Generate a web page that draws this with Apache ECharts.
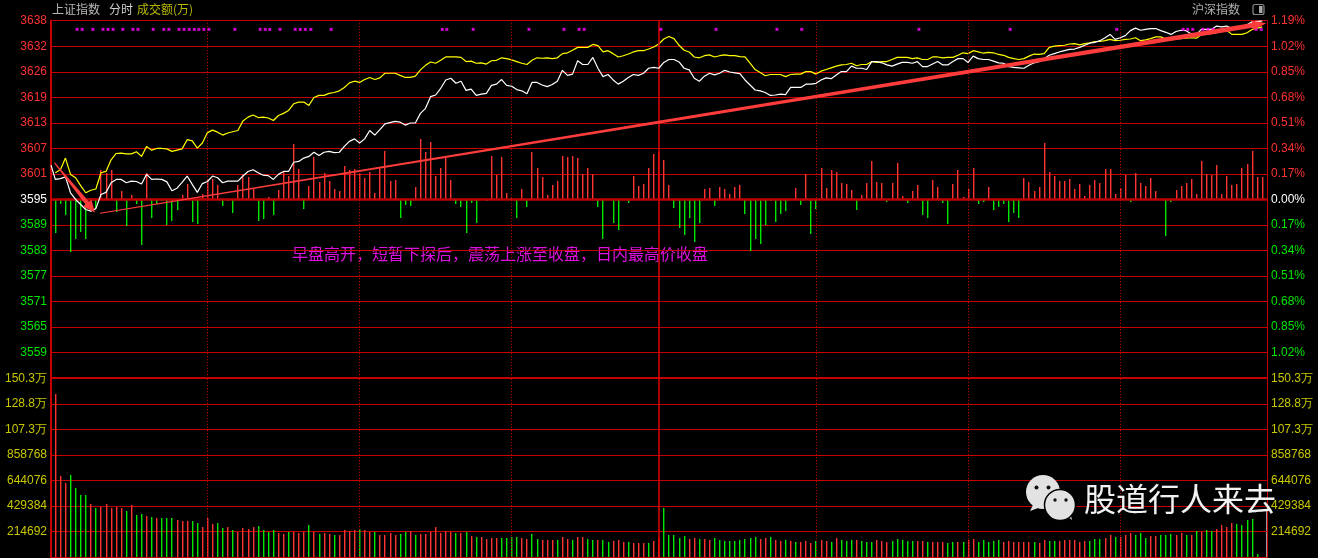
<!DOCTYPE html>
<html><head><meta charset="utf-8">
<style>html,body{margin:0;padding:0;background:#000}#c{width:1318px;height:558px}</style>
<script src="https://cdn.jsdelivr.net/npm/echarts@6/dist/echarts.min.js"></script>
</head><body><div id="c"></div>
<script>
const prevClose = 3595;
const priceLabels = ['3553','3559','3565','3571','3577','3583','3589','3595','3601','3607','3613','3619','3626','3632','3638'];
const whiteOpen = 3603.2;
const whitePrices = [
3599.8,3600.0,3600.4,3596.6,3595.0,3593.8,3592.6,3592.2,3592.8,3596.2,3596.7,3599.0,3599.8,3599.8,3599.0,3599.4,3599.3,3598.7,3601.0,3599.8,
3599.9,3599.8,3599.2,3597.1,3597.7,3599.1,3600.6,3598.6,3596.7,3598.8,3599.3,3600.6,3600.2,3599.0,3599.4,3599.4,3599.4,3600.6,3601.7,3602.1,
3601.4,3600.8,3600.7,3599.8,3601.0,3601.7,3601.7,3603.9,3604.1,3604.9,3605.3,3606.3,3605.5,3606.3,3606.5,3606.2,3606.3,3607.7,3608.9,3609.5,
3608.5,3609.5,3611.5,3610.4,3611.7,3613.1,3613.4,3613.7,3613.5,3612.8,3613.3,3613.3,3615.6,3616.8,3619.6,3620.0,3621.6,3623.6,3624.0,3622.8,
3623.3,3621.1,3621.4,3619.9,3620.2,3620.4,3622.3,3622.6,3623.7,3622.3,3622.1,3621.3,3621.0,3620.3,3623.0,3623.0,3622.4,3622.0,3622.5,3623.3,
3625.9,3624.7,3625.0,3628.2,3627.3,3627.3,3629.0,3626.4,3624.4,3624.9,3623.6,3622.6,3623.3,3624.2,3624.9,3624.7,3625.2,3626.4,3626.6,3626.4,
3627.8,3628.5,3628.5,3627.9,3626.4,3626.0,3624.0,3623.3,3624.5,3625.2,3624.8,3625.2,3625.9,3625.5,3625.3,3625.1,3623.6,3622.4,3621.2,3621.0,
3620.6,3619.9,3620.0,3620.2,3620.1,3621.8,3621.8,3621.8,3622.6,3622.6,3622.8,3623.6,3624.1,3623.9,3624.8,3625.6,3625.6,3626.9,3626.4,3626.4,
3626.1,3628.0,3628.0,3627.7,3627.2,3626.9,3627.4,3627.8,3627.8,3627.6,3628.0,3626.8,3626.8,3627.4,3628.0,3627.2,3627.2,3628.0,3628.7,3628.7,
3627.8,3629.3,3628.7,3628.5,3628.5,3628.1,3627.7,3627.6,3626.8,3626.6,3626.5,3626.4,3627.1,3627.7,3628.0,3628.7,3629.5,3629.9,3630.3,3630.6,
3630.9,3631.0,3631.4,3631.9,3632.4,3632.6,3633.0,3633.7,3634.5,3633.3,3633.7,3634.2,3635.4,3636.0,3635.5,3635.7,3635.9,3635.9,3635.4,3635.0,
3634.5,3635.2,3635.5,3635.4,3634.6,3634.5,3635.7,3635.7,3635.7,3636.5,3636.3,3636.5,3635.9,3636.3,3636.4,3636.8,3637.5,3637.6,3637.7];
const yellowPrices = [
3601.4,3602.1,3604.9,3601.0,3600.2,3598.3,3596.6,3597.2,3597.5,3601.4,3601.7,3604.5,3606.0,3606.1,3605.9,3605.9,3606.4,3605.3,3607.7,3606.8,
3607.2,3607.2,3607.1,3606.5,3606.8,3607.1,3609.3,3609.0,3607.3,3608.5,3611.0,3611.6,3611.1,3610.4,3610.9,3611.2,3611.5,3613.8,3614.7,3615.2,
3614.6,3614.7,3614.5,3613.9,3615.1,3615.6,3616.3,3617.9,3618.3,3618.3,3617.5,3619.4,3619.9,3619.9,3620.4,3620.6,3621.0,3621.8,3622.9,3623.3,
3623.0,3623.7,3624.2,3623.7,3624.1,3625.2,3625.2,3625.2,3624.7,3624.2,3624.2,3624.5,3626.0,3627.1,3627.9,3627.6,3628.3,3629.1,3629.1,3629.1,
3629.0,3628.0,3628.1,3627.6,3627.7,3627.4,3628.2,3628.3,3628.9,3628.7,3628.4,3628.0,3627.6,3627.3,3628.3,3628.9,3628.8,3628.9,3628.7,3628.9,
3629.9,3630.1,3630.7,3631.4,3631.4,3631.4,3632.1,3631.8,3630.3,3630.6,3629.9,3629.1,3629.4,3629.8,3630.3,3630.6,3630.6,3631.0,3631.5,3632.2,
3633.4,3634.0,3633.5,3631.9,3630.7,3630.3,3629.1,3628.9,3629.4,3629.6,3629.1,3629.4,3629.6,3629.4,3629.4,3629.2,3629.1,3627.6,3626.1,3625.4,
3624.6,3624.9,3624.9,3624.9,3624.4,3624.9,3625.0,3625.0,3625.6,3625.6,3625.0,3625.7,3626.1,3626.5,3626.9,3627.2,3627.3,3627.6,3627.0,3627.3,
3627.3,3628.0,3627.8,3628.0,3628.0,3628.5,3629.0,3629.0,3629.0,3628.7,3628.9,3628.5,3628.5,3629.1,3629.1,3628.9,3629.0,3629.0,3629.5,3630.1,
3629.9,3630.6,3630.3,3630.0,3630.2,3630.1,3629.7,3629.5,3629.0,3628.7,3628.5,3628.7,3629.3,3629.8,3629.7,3629.9,3631.4,3631.7,3631.8,3631.9,
3632.2,3632.3,3632.0,3632.3,3632.5,3632.8,3632.8,3633.0,3633.3,3633.0,3633.1,3633.3,3633.4,3633.7,3633.0,3633.2,3633.5,3633.9,3633.9,3633.4,
3633.3,3633.5,3633.5,3633.6,3633.7,3633.6,3634.4,3634.7,3634.7,3634.9,3635.5,3635.5,3634.5,3634.5,3634.5,3634.9,3635.7,3636.0,3636.3];
const flowValues = [
-102,-15,-48,-157,-120,-98,-120,5,-25,90,80,90,-38,26,-80,12,-15,-138,80,-57,
-15,-6,-78,-66,-32,12,45,-68,-75,15,60,62,42,-20,-6,-42,42,78,68,35,
-65,-60,8,-48,27,82,70,168,93,-30,40,127,52,80,57,32,24,102,90,92,
80,66,84,20,95,147,56,60,-57,-18,-20,36,183,143,174,72,96,132,60,-15,
-24,-102,-12,-72,-2,-6,132,75,129,18,3,-57,30,-24,144,96,69,12,42,57,
132,129,132,126,78,96,78,-24,-120,-2,-70,-93,0,-12,72,39,45,96,138,144,
120,42,-27,-87,-108,-57,-129,-72,32,33,-21,36,30,15,36,42,-45,-156,-120,-135,
-78,-6,-69,-45,-36,-3,33,-18,78,-105,-30,96,33,90,84,51,45,27,-33,12,
51,117,54,51,-9,51,111,9,-12,24,42,-48,-57,60,36,-12,-75,45,90,6,
30,96,-15,-9,36,-33,-24,-15,-69,-42,-57,66,54,24,36,171,84,72,57,57,
63,30,45,9,42,60,51,93,93,15,33,75,-9,81,51,39,66,24,0,-111,
-9,27,39,51,63,15,117,78,75,105,15,72,42,48,96,108,147,69,69];
const volumeWan = [
136.9,68.0,62.2,68.9,58.0,52.1,52.1,44.5,41.2,42.0,44.5,41.2,42.0,41.2,38.6,43.7,35.3,36.1,34.4,33.6,
32.8,32.8,32.8,32.8,31.1,30.2,30.2,30.2,28.6,25.2,32.8,27.7,28.6,24.4,25.2,22.7,21.0,24.4,23.5,25.2,
26.0,22.7,21.0,22.7,20.2,19.3,21.0,21.0,20.2,21.0,26.9,21.0,19.3,20.2,19.3,
18.8,18.8,23.0,22.1,23.0,23.8,23.0,21.3,21.3,18.8,18.8,20.4,18.8,19.6,21.3,22.1,18.8,19.6,19.6,21.3,
25.5,20.4,22.1,21.3,20.4,20.4,21.3,17.9,17.1,17.1,15.4,16.2,16.2,16.2,16.2,17.1,17.1,16.2,15.4,19.6,
15.4,14.6,14.6,14.6,14.6,17.1,15.4,14.6,17.1,17.1,15.4,14.6,14.6,14.6,12.9,13.7,14.6,12.9,12.9,12.0,
12.0,12.0,12.0,13.7,16.2,41.4,18.8,18.8,16.2,17.9,15.4,16.2,15.4,15.4,14.6,16.2,14.6,13.7,13.7,13.7,
14.6,15.4,16.2,17.1,15.4,16.2,17.1,14.6,13.7,14.6,13.7,12.9,12.9,13.7,12.0,13.7,14.6,13.7,
12.9,16.2,14.6,13.7,14.6,14.6,13.7,12.9,12.9,14.6,13.7,12.9,13.7,15.4,14.6,13.7,13.7,13.7,13.7,12.9,
12.9,12.9,12.9,12.0,12.9,12.9,12.9,14.8,15.4,12.9,14.6,12.9,13.7,14.6,12.9,13.7,12.9,12.9,12.9,12.9,
12.9,12.0,14.6,13.7,13.7,13.7,14.6,14.6,14.6,12.9,13.7,13.7,15.4,15.4,16.2,18.8,17.1,17.1,18.8,20.4,
18.8,20.4,16.2,17.9,17.9,18.8,18.8,19.6,18.8,20.4,18.8,18.8,22.1,21.3,23.0,22.1,23.8,27.2,25.5,28.8,
28.0,27.2,31.4,32.2,2.8];
const volumeDir = (
"RRRGGGGRGRRRRRGRGGRGRGGGRRRGGRRRGGRGRRRRGGGGRRGRRRGRGRR"+
"GRRRRGRRGRRRRGGRGRRRRRRRGRGRGRRRRGGGGRRGGRRRGRRGRRGGRGGRRRGRRRGRR"+
"GGGGGRRGRRGGGGGGGGGRRGRRGRGRRR"+
"GRRGRGGGRGGGRRRGGGGGRRGRRRGGRGRRGGGGGRRRRRRGRRGGRRRRRRGGGRRGRRRGGGRRGGGRRGRGRGGRRRR").split('');
const dotMinutes = [4.3,5.3,7.4,9.4,10.4,11.4,13.3,15.3,16.3,19.3,21.4,22.4,24.4,25.4,26.4,27.4,28.3,29.3,30.3,35.4,40.4,41.4,42.3,44.3,47.3,48.3,49.3,50.4,
54.4,76.3,77.2,82.4,93.4,100.3,103.3,104.3,119.4,130.3,142.3,147.2,170.3,188.3,209.3,222.4,223.3,224.3,226.3,227.3,228.3,236.8,237.8];
const dotLevel = 3635.7;
const dottedMinutes = [30,60,90,150,180,210];
const noonMinute = 119;
const arrowShort = [[-0.2,3603.8],[7.8,3591.9]];
const arrowLong = [[8.8,3591.7],[238.8,3637.2]];
const volumeStep = 214692;
const noteText = ['早盘高开','短暂下探后','震荡上涨至收盘','日内最高价收盘'].join('\uFF0C');

const pct = p => (p - prevClose) / prevClose * 100;
const tone = v => v > 0.001 ? '#ff3232' : (v < -0.001 ? '#00e600' : '#ffffff');
const gridRed = '#c40000', labelFont = '"Liberation Sans"', cjk = '"Noto Sans CJK SC"';
const volFmt = v => v >= 1000000 ? (v / 10000).toFixed(1) + '万' : String(v);
const mkLines = extra => ({silent: true, symbol: 'none', animation: false, label: {show: false},
  data: dottedMinutes.map(m => ({xAxis: m, lineStyle: {type: [1, 2], color: '#d00000', width: 1}}))
    .concat([{xAxis: noonMinute, lineStyle: {type: 'solid', color: '#e00000', width: 1.5}}])
    .concat(extra || [])});

const chart = echarts.init(document.getElementById('c'), null, {renderer: 'canvas'});
function arrow(params, api) {
  const a = api.coord([api.value(0), pct(api.value(1))]);
  const b = api.coord([api.value(2), pct(api.value(3))]);
  const w0 = api.value(4), w1 = api.value(5), hw = api.value(6), hl = api.value(7);
  const dx = b[0] - a[0], dy = b[1] - a[1], L = Math.hypot(dx, dy), ux = dx / L, uy = dy / L, nx = -uy, ny = ux;
  const c = [b[0] - ux * hl, b[1] - uy * hl];
  return {type: 'polygon', shape: {points: [
    [a[0] + nx * w0 / 2, a[1] + ny * w0 / 2], [c[0] + nx * w1 / 2, c[1] + ny * w1 / 2],
    [c[0] + nx * hw / 2, c[1] + ny * hw / 2], b, [c[0] - nx * hw / 2, c[1] - ny * hw / 2],
    [c[0] - nx * w1 / 2, c[1] - ny * w1 / 2], [a[0] - nx * w0 / 2, a[1] - ny * w0 / 2]]},
    style: {fill: '#ff3c3c'}};
}
// one crisp column per minute, positioned through the axes
function columnBar(params, api) {
  const top = api.coord([api.value(0), api.value(1)]);
  const base = api.coord([api.value(0), 0]);
  const y0 = Math.round(Math.min(top[1], base[1]));
  const y1 = Math.round(Math.max(top[1], base[1]));
  return {type: 'rect', shape: {x: Math.floor(top[0]), y: y0, width: 1.4, height: y1 - y0},
    style: {fill: api.value(2) > 0 ? '#ff3232' : '#00e600'}};
}
const pctAxis = {type: 'value', min: -1.19, max: 1.19, interval: 0.17, gridIndex: 0, axisTick: {show: false}};
const volAxis = {type: 'value', gridIndex: 1, min: 0, max: 7 * volumeStep, interval: volumeStep, axisTick: {show: false}};
const labelBase = {showMinLabel: false, margin: 4, fontFamily: labelFont, fontSize: 12};
const edge = w => ({show: true, onZero: false, lineStyle: {color: '#c80000', width: w}});
chart.setOption({
  animation: false,
  backgroundColor: '#000',
  grid: [
    {left: 51, width: 1216, top: 20.7, height: 357.5},
    {left: 51, width: 1216, top: 378.2, height: 179}
  ],
  xAxis: [0, 1].map(i => ({
    type: 'value', gridIndex: i, min: -0.85, max: 238.94,
    axisLabel: {show: false}, axisTick: {show: false}, splitLine: {show: false},
    axisLine: {show: true, onZero: false, lineStyle: {color: gridRed, width: i === 0 ? 2 : 1}}
  })),
  yAxis: [
    Object.assign({}, pctAxis, {position: 'left', axisLine: edge(2),
      splitLine: {show: true, lineStyle: {color: gridRed, width: 1}},
      axisLabel: Object.assign({}, labelBase, {
        formatter: v => priceLabels[Math.round(v / 0.17) + 7], color: v => tone(v)})}),
    Object.assign({}, pctAxis, {position: 'right', axisLine: edge(1), splitLine: {show: false},
      axisLabel: Object.assign({}, labelBase, {
        formatter: v => Math.abs(v).toFixed(2) + '%', color: v => tone(v)})}),
    {type: 'value', gridIndex: 0, min: -538, max: 538, show: false},
    Object.assign({}, volAxis, {position: 'left', axisLine: edge(2),
      splitLine: {show: true, lineStyle: {color: gridRed, width: 1}},
      axisLabel: Object.assign({}, labelBase, {color: '#c8c800', formatter: volFmt})}),
    Object.assign({}, volAxis, {position: 'right', axisLine: edge(1), splitLine: {show: false},
      axisLabel: Object.assign({}, labelBase, {color: '#c8c800', formatter: volFmt})})
  ],
  series: [
    {type: 'custom', xAxisIndex: 0, yAxisIndex: 2, z: 2, renderItem: columnBar,
     encode: {x: 0, y: 1},
     data: flowValues.map((v, i) => [i, v, v >= 0 ? 1 : 0]),
     markLine: mkLines([{yAxis: 0, lineStyle: {type: 'solid', color: '#c00000', width: 2.5}}])},
    {type: 'custom', xAxisIndex: 1, yAxisIndex: 3, z: 2, renderItem: columnBar,
     encode: {x: 0, y: 1},
     data: volumeWan.map((v, i) => [i, v * 10000, volumeDir[i] === 'R' ? 1 : 0]),
     markLine: mkLines()},
    {type: 'line', xAxisIndex: 0, yAxisIndex: 0, showSymbol: false, z: 4, lineStyle: {color: '#ffff00', width: 1.2},
     data: yellowPrices.map((p, i) => [i, pct(p)])},
    {type: 'line', xAxisIndex: 0, yAxisIndex: 0, showSymbol: false, z: 5, lineStyle: {color: '#ffffff', width: 1.2},
     data: [[-0.85, pct(whiteOpen)]].concat(whitePrices.map((p, i) => [i, pct(p)]))},
    {type: 'scatter', xAxisIndex: 0, yAxisIndex: 0, symbol: 'rect', symbolSize: 3, z: 6, itemStyle: {color: '#ff00ff'},
     data: dotMinutes.map(m => [m, pct(dotLevel)])},
    {type: 'custom', xAxisIndex: 0, yAxisIndex: 0, z: 7, clip: false, renderItem: arrow,
     encode: {x: [0, 2], y: [1, 3]},
     data: [
       [arrowShort[0][0], arrowShort[0][1], arrowShort[1][0], arrowShort[1][1], 1, 4.5, 11, 12],
       [arrowLong[0][0], arrowLong[0][1], arrowLong[1][0], arrowLong[1][1], 1.2, 4.6, 10, 14]
     ]}
  ],
  graphic: [
    {type: 'text', left: 52, top: 3, style: {text: '上证指数', fill: '#b8b8b8', font: '12px ' + cjk}},
    {type: 'text', left: 109, top: 3, style: {text: '分时', fill: '#d0d0d0', font: '12px ' + cjk}},
    {type: 'text', left: 137, top: 3, style: {text: '成交额(万)', fill: '#b8b800', font: '12px ' + cjk}},
    {type: 'text', left: 1192, top: 3, style: {text: '沪深指数', fill: '#b0b0b0', font: '12px ' + cjk}},
    {type: 'rect', shape: {x: 1253, y: 4.5, width: 11, height: 10, r: 2}, style: {fill: '#000', stroke: '#8a8a8a', lineWidth: 1.2}},
    {type: 'rect', shape: {x: 1259, y: 6, width: 3.5, height: 7}, style: {fill: '#a8a8a8'}},
    {type: 'text', left: 292, top: 246, style: {text: noteText, fill: '#e010e0', font: '16px ' + cjk}},
    {type: 'line', shape: {x1: 1267, y1: 510, x2: 1267, y2: 557}, style: {stroke: '#fff', lineWidth: 1.2}},
    {type: 'polygon', z: 20, shape: {points: [[1033,505],[1030,511],[1041,507]]}, style: {fill: '#e2e2e2'}},
    {type: 'circle', z: 20, shape: {cx: 1043, cy: 492, r: 17}, style: {fill: '#e2e2e2'}},
    {type: 'circle', z: 20, shape: {cx: 1036.5, cy: 487.5, r: 2}, style: {fill: '#111'}},
    {type: 'circle', z: 20, shape: {cx: 1048.5, cy: 487.5, r: 2}, style: {fill: '#111'}},
    {type: 'polygon', z: 21, shape: {points: [[1066,515],[1072,520],[1070,512]]}, style: {fill: '#e2e2e2'}},
    {type: 'circle', z: 21, shape: {cx: 1060, cy: 505, r: 15.5}, style: {fill: '#e2e2e2', stroke: '#000', lineWidth: 1.5}},
    {type: 'circle', z: 21, shape: {cx: 1055, cy: 500, r: 1.7}, style: {fill: '#111'}},
    {type: 'circle', z: 21, shape: {cx: 1066, cy: 500, r: 1.7}, style: {fill: '#111'}},
    {type: 'text', z: 22, left: 1084, top: 483, style: {text: '股道行人来去', fill: '#f2f2f2', font: '32px ' + cjk, shadowColor: '#000', shadowBlur: 2, shadowOffsetX: 1, shadowOffsetY: 1}}
  ]
});
</script></body></html>
